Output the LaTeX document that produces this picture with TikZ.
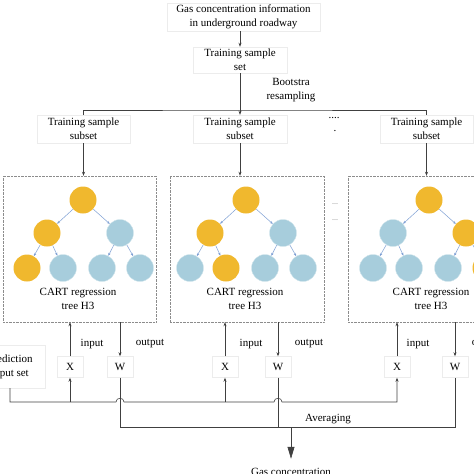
\documentclass[tikz,border=0pt]{standalone}
\usepackage{fontspec}
\setmainfont{Liberation Serif}
\usetikzlibrary{arrows.meta}
\definecolor{nodeyel}{HTML}{F0B82E}
\definecolor{nodeblu}{HTML}{A7CDDC}
\definecolor{edgeblu}{HTML}{7C9ED3}
\begin{document}
\begin{tikzpicture}[x=1pt, y=-1pt, font=\fontsize{11}{14}\selectfont,
    lbl/.style={draw=gray!15, align=center, inner sep=0pt},
    yel/.style={circle, fill=nodeyel, minimum size=27pt, inner sep=0pt},
    blu/.style={circle, fill=nodeblu, draw=nodeblu!50, minimum size=27pt, inner sep=0pt},
    edge/.style={edgeblu, line width=0.5pt, -{Stealth[length=3pt,width=2.5pt]}},
    treebox/.style={draw=gray!90, densely dotted, minimum width=153pt, minimum height=146pt},
    conn/.style={draw=black!75, line width=0.6pt},
    arr/.style={conn, -{Stealth[length=4pt,width=3pt]}}]
    \useasboundingbox (0,0) rectangle (474,474);
    \clip (0,0) rectangle (474,474);
    % source and sample set
    \node[lbl, minimum width=153pt, minimum height=28pt] (info) at (243.5,17)
        {Gas concentration information\\in underground roadway};
    \node[lbl, minimum width=94pt, minimum height=26pt] (set) at (240,60)
        {Training sample\\set};
    \node[align=center] (boot) at (291,90) {Bootstra\\resampling};
    % subsets
    \node[lbl, minimum width=93pt, minimum height=28pt] (sub1) at (83.5,129)
        {Training sample\\subset};
    \node[lbl, minimum width=94pt, minimum height=28pt] (sub2) at (240,129)
        {Training sample\\subset};
    \node[lbl, minimum width=93pt, minimum height=28pt] (sub3) at (426.5,129)
        {Training sample\\subset};
    \node (dots1) at (334,118) {....};
    \node (dots2) at (335,131) {.};
    % tree boxes
    \node[treebox] (box1) at (79.5,249) {};
    \node[treebox, minimum width=154pt] (box2) at (247,249) {};
    \node[treebox] (box3) at (424.5,249) {};
    \node[gray, font=\fontsize{8}{9}\selectfont] (dots3) at (335,204) {...};
    \node[gray, font=\fontsize{8}{9}\selectfont] (dots4) at (335,220) {...};
    % tree 1
    \node[yel] (t1r) at (83,200) {};
    \node[yel] (t1a) at (47,233) {};
    \node[blu] (t1b) at (120,233) {};
    \node[yel] (t1aa) at (27,268) {};
    \node[blu] (t1ab) at (63,268) {};
    \node[blu] (t1ba) at (102,268) {};
    \node[blu] (t1bb) at (140,268) {};
    \node[align=center] (cart1) at (78,299) {CART regression\\tree H3};
    % tree 2
    \node[yel] (t2r) at (246,200) {};
    \node[yel] (t2a) at (210,233) {};
    \node[blu] (t2b) at (283,233) {};
    \node[blu] (t2aa) at (190,268) {};
    \node[yel] (t2ab) at (226,268) {};
    \node[blu] (t2ba) at (265,268) {};
    \node[blu] (t2bb) at (303,268) {};
    \node[align=center] (cart2) at (245,299) {CART regression\\tree H3};
    % tree 3
    \node[yel] (t3r) at (429,200) {};
    \node[blu] (t3a) at (393,233) {};
    \node[yel] (t3b) at (466,233) {};
    \node[blu] (t3aa) at (373,268) {};
    \node[blu] (t3ab) at (409,268) {};
    \node[blu] (t3ba) at (448,268) {};
    \node[yel] (t3bb) at (486,268) {};
    \node[align=center] (cart3) at (431,299) {CART regression\\tree H3};
    \draw[edge] (t1r) -- (t1a);  \draw[edge] (t1r) -- (t1b);
    \draw[edge] (t1a) -- (t1aa); \draw[edge] (t1a) -- (t1ab);
    \draw[edge] (t1b) -- (t1ba); \draw[edge] (t1b) -- (t1bb);
    \draw[edge] (t2r) -- (t2a);  \draw[edge] (t2r) -- (t2b);
    \draw[edge] (t2a) -- (t2aa); \draw[edge] (t2a) -- (t2ab);
    \draw[edge] (t2b) -- (t2ba); \draw[edge] (t2b) -- (t2bb);
    \draw[edge] (t3r) -- (t3a);  \draw[edge] (t3r) -- (t3b);
    \draw[edge] (t3a) -- (t3aa); \draw[edge] (t3a) -- (t3ab);
    \draw[edge] (t3b) -- (t3ba); \draw[edge] (t3b) -- (t3bb);
    % inputs and outputs
    \node[lbl, minimum width=70pt, minimum height=43pt] (pred) at (10,366.5)
        {Prediction\\input set};
    \node[lbl, minimum width=26pt, minimum height=21pt] (x1) at (70,367) {X};
    \node[lbl, minimum width=26pt, minimum height=21pt] (w1) at (120,367) {W};
    \node[lbl, minimum width=26pt, minimum height=21pt] (x2) at (225,367) {X};
    \node[lbl, minimum width=26pt, minimum height=21pt] (w2) at (278,367) {W};
    \node[lbl, minimum width=26pt, minimum height=21pt] (x3) at (397,367) {X};
    \node[lbl, minimum width=26pt, minimum height=21pt] (w3) at (455,367) {W};
    \node (in1) at (92,344) {input};
    \node (out1) at (150,344) {output};
    \node (in2) at (251,344) {input};
    \node (out2) at (309,344) {output};
    \node (in3) at (418,344) {input};
    \node (out3) at (486,344) {output};
    \node (avg) at (328,419) {Averaging};
    \node (gas) at (291,472) {Gas concentration};
    \coordinate (split) at (240,110);
    \coordinate (busrow) at (0,402);
    \coordinate (avgrow) at (0,427);
    % connectors
    \draw[arr] (info.south -| set) -- (set);
    \draw[arr] (set) -- (sub2);
    \draw[conn] (sub1.north) |- (split) -| (sub3.north);
    \draw[arr] (sub1) -- (sub1 |- box1.north);
    \draw[arr] (sub2) -- (sub2 |- box2.north);
    \draw[arr] (sub3) -- (sub3 |- box3.north);
    \draw[arr] (x1) -- (x1 |- box1.south);
    \draw[arr] (x2) -- (x2 |- box2.south);
    \draw[arr] (x3) -- (x3 |- box3.south);
    \draw[arr] (box1.south -| w1) -- (w1);
    \draw[arr] (box2.south -| w2) -- (w2);
    \draw[arr] (box3.south -| w3) -- (w3);
    \draw[arr] (pred.south) |- (116,402)
        .. controls (116,397) and (124,397) .. (124,402) -- (274,402)
        .. controls (274,397) and (282,397) .. (282,402) -| (x3.south);
    \draw[arr] (x1 |- busrow) -- (x1);
    \draw[arr] (x2 |- busrow) -- (x2);
    \draw[conn] (w1) |- (w3 |- avgrow) -- (w3);
    \draw[conn] (w2) -- (w2 |- avgrow);
    \draw[conn, -{Triangle[length=12pt,width=7pt]}, shorten >=6pt] (gas |- avgrow) -- (gas.north);
\end{tikzpicture}
\end{document}
